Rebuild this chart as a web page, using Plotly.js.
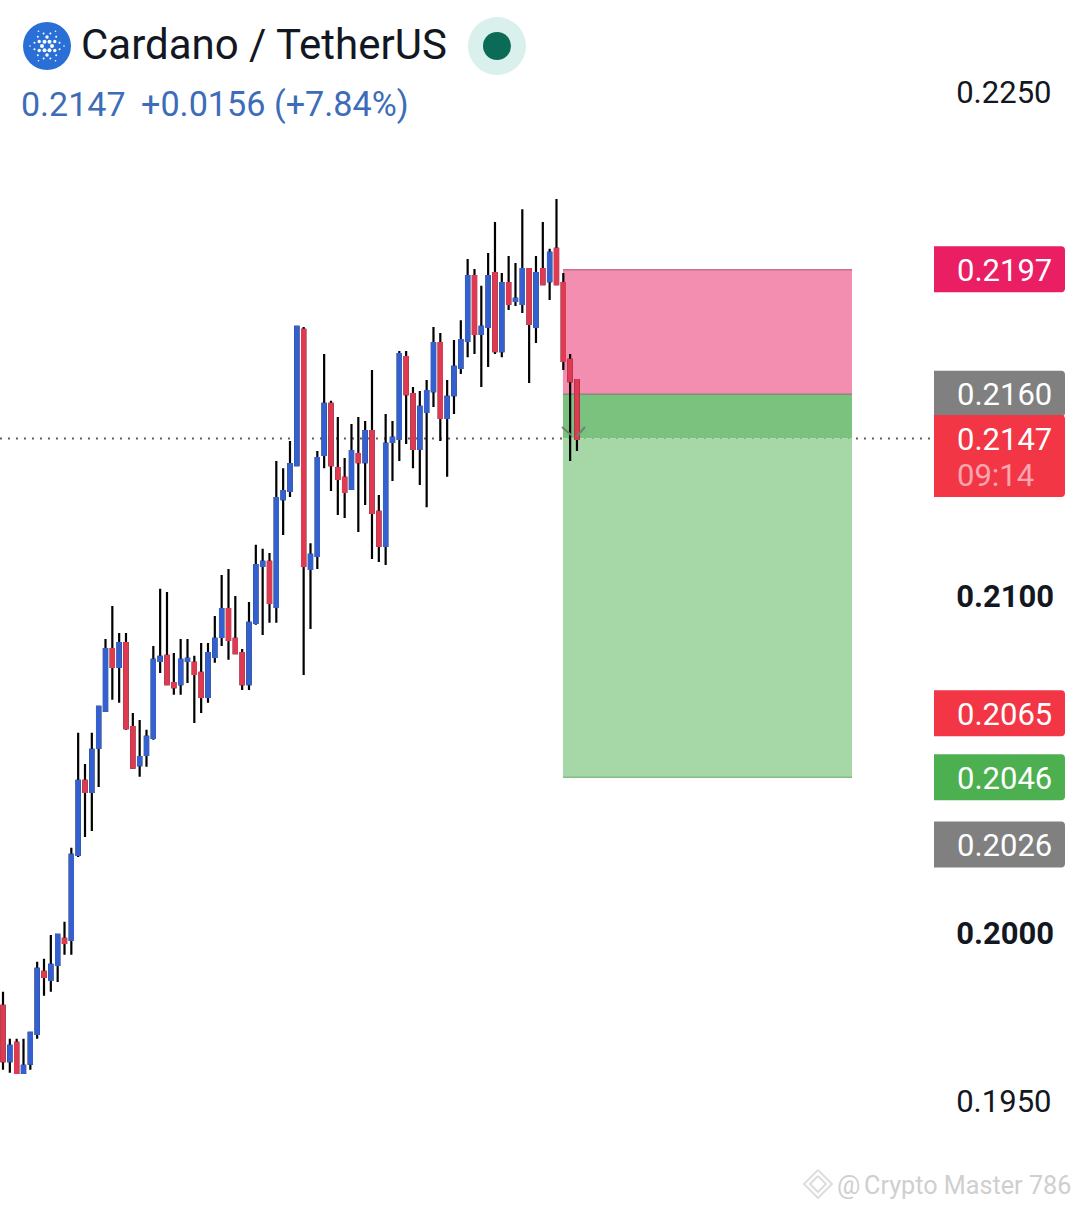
<!DOCTYPE html>
<html>
<head>
<meta charset="utf-8">
<script src="https://cdn.plot.ly/plotly-3.0.1.min.js"></script>
<style>
html, body { margin: 0; padding: 0; background: #fff; }
#chart { width: 1080px; height: 1209px; }
</style>
</head>
<body>
<div id="chart"></div>
<script>
// candles, left to right
const opens = [0.19783,0.19619,0.19673,0.19584,0.19611,0.19700,0.19884,0.19860,0.19905,0.19982,0.19979,0.20232,0.20452,0.20419,0.20550,0.20660,0.20844,0.20791,0.20862,0.20612,0.20499,0.20529,0.20580,0.20809,0.20824,0.20743,0.20740,0.20809,0.20803,0.20773,0.20702,0.20821,0.20880,0.20963,0.20874,0.20832,0.20740,0.20922,0.21091,0.21103,0.20969,0.21290,0.21314,0.21391,0.21793,0.21082,0.21121,0.21421,0.21573,0.21382,0.21353,0.21320,0.21424,0.21400,0.21492,0.21252,0.21151,0.21460,0.21469,0.21712,0.21602,0.21439,0.21549,0.21611,0.21754,0.21531,0.21599,0.21680,0.21760,0.21953,0.21781,0.21802,0.21962,0.21730,0.21932,0.21879,0.21870,0.21974,0.21802,0.21974,0.21938,0.22034,0.21932,0.21704,0.21644];
const highs = [0.19825,0.19685,0.19685,0.19685,0.19703,0.19914,0.19923,0.19994,0.19994,0.20033,0.20253,0.20595,0.20502,0.20595,0.20672,0.20874,0.20972,0.20892,0.20892,0.20654,0.20633,0.20604,0.20853,0.21023,0.21014,0.20832,0.20874,0.20874,0.20824,0.20862,0.20862,0.20942,0.21064,0.21082,0.21002,0.20844,0.20984,0.21154,0.21142,0.21130,0.21403,0.21382,0.21463,0.21802,0.21802,0.21159,0.21433,0.21721,0.21582,0.21534,0.21412,0.21513,0.21534,0.21522,0.21674,0.21302,0.21543,0.21522,0.21730,0.21730,0.21623,0.21611,0.21644,0.21802,0.21784,0.21644,0.21763,0.21822,0.22004,0.21974,0.21924,0.22022,0.22114,0.21962,0.22013,0.21992,0.22152,0.21974,0.22013,0.22114,0.22034,0.22182,0.21962,0.21721,0.21644];
const lows = [0.19593,0.19584,0.19584,0.19584,0.19593,0.19685,0.19813,0.19825,0.19854,0.19935,0.19935,0.20226,0.20285,0.20303,0.20434,0.20660,0.20693,0.20684,0.20604,0.20488,0.20464,0.20494,0.20574,0.20773,0.20737,0.20708,0.20708,0.20743,0.20624,0.20654,0.20684,0.20803,0.20853,0.20812,0.20832,0.20722,0.20722,0.20916,0.20886,0.20922,0.20922,0.21183,0.21296,0.21391,0.20767,0.20904,0.21082,0.21382,0.21314,0.21243,0.21234,0.21320,0.21192,0.21272,0.21112,0.21103,0.21094,0.21344,0.21403,0.21454,0.21382,0.21332,0.21266,0.21564,0.21463,0.21356,0.21543,0.21662,0.21712,0.21721,0.21623,0.21683,0.21721,0.21712,0.21852,0.21864,0.21843,0.21635,0.21754,0.21929,0.21882,0.21929,0.21674,0.21403,0.21433];
const closes = [0.19619,0.19664,0.19584,0.19605,0.19703,0.19893,0.19869,0.19905,0.19994,0.19970,0.20232,0.20452,0.20419,0.20544,0.20672,0.20844,0.20791,0.20862,0.20609,0.20491,0.20523,0.20583,0.20812,0.20821,0.20740,0.20731,0.20812,0.20815,0.20770,0.20702,0.20832,0.20874,0.20963,0.20871,0.20832,0.20740,0.20922,0.21094,0.21103,0.20981,0.21293,0.21314,0.21394,0.21802,0.21091,0.21124,0.21412,0.21573,0.21391,0.21350,0.21311,0.21433,0.21400,0.21492,0.21249,0.21151,0.21454,0.21472,0.21721,0.21602,0.21439,0.21564,0.21611,0.21754,0.21531,0.21594,0.21683,0.21763,0.21953,0.21781,0.21802,0.21953,0.21730,0.21932,0.21870,0.21885,0.21974,0.21811,0.21962,0.21929,0.22022,0.21929,0.21701,0.21641,0.21469];

const priceTicks = [0.2250, 0.2100, 0.2000, 0.1950];
const priceTickText = ['0.2250', '<b>0.2100</b>', '<b>0.2000</b>', '0.1950'];

const stopPrice = 0.21972;
const entryPrice = 0.21602;
const lastPrice = 0.2147;
const targetPrice = 0.20463;
const zoneStart = 81.95;
const zoneEnd = 124.25;

const badgePrices = [0.2197, 0.2160, 0.2065, 0.2046, 0.2026];
const badgeLabels = ['0.2197', '0.2160', '0.2065', '0.2046', '0.2026'];
const badgeColors = ['#E91E63', '#808080', '#F23645', '#4CAF50', '#808080'];

const PLOT_W = 934;
const PLOT_H = 1209;
const FONT = 'Roboto, sans-serif';

function px(x) { return x / PLOT_W; }
function py(y) { return 1 - y / PLOT_H; }
function priceY(p) { return 932 - (p - 0.2) * 33636; }

function circle(cx, cy, r, color) {
    return {
        type: 'circle', xref: 'paper', yref: 'paper', layer: 'above',
        x0: px(cx - r), x1: px(cx + r), y0: py(cy + r), y1: py(cy - r),
        fillcolor: color, line: { width: 0 }
    };
}

function badge(y0, y1, color) {
    const x0 = 934, x1 = 1065, r = 4;
    const P = (x, y) => px(x) + ' ' + py(y);
    const path = 'M' + P(x0, y0) + ' L' + P(x1 - r, y0) + ' Q' + P(x1, y0) + ' ' + P(x1, y0 + r) +
        ' L' + P(x1, y1 - r) + ' Q' + P(x1, y1) + ' ' + P(x1 - r, y1) + ' L' + P(x0, y1) + ' Z';
    return { type: 'path', xref: 'paper', yref: 'paper', layer: 'above', path: path, fillcolor: color, line: { width: 0 } };
}

function polyline(points, color, width) {
    const path = points.map((p, i) => (i ? 'L' : 'M') + px(p[0]) + ' ' + py(p[1])).join(' ');
    return { type: 'path', xref: 'paper', yref: 'paper', layer: 'above', path: path, line: { color: color, width: width } };
}

function label(text, x, y, size, color, extra) {
    return Object.assign({
        text: text, xref: 'paper', yref: 'paper', x: px(x), y: py(y),
        xanchor: 'left', yanchor: 'middle', showarrow: false, borderpad: 0,
        font: { family: FONT, size: size, color: color }
    }, extra || {});
}

const xs = opens.map((_, i) => i);
const bodyHigh = opens.map((o, i) => Math.max(o, closes[i]));
const bodyLow = opens.map((o, i) => Math.min(o, closes[i]));

const wickStyle = { line: { color: '#000000', width: 2.2 }, fillcolor: '#000000' };
const traces = [
    {
        type: 'candlestick', x: xs, open: opens, high: highs, low: lows, close: closes,
        increasing: wickStyle, decreasing: wickStyle, hoverinfo: 'skip', showlegend: false
    },
    {
        type: 'candlestick', x: xs, open: opens, high: bodyHigh, low: bodyLow, close: closes,
        increasing: { line: { color: '#3461CF', width: 2.2 }, fillcolor: '#3461CF' },
        decreasing: { line: { color: '#E03A52', width: 2.2 }, fillcolor: '#E03A52' },
        hoverinfo: 'skip', showlegend: false
    }
];

const shapes = [
    // position tool
    { type: 'rect', xref: 'x', yref: 'y', layer: 'below', x0: zoneStart, x1: zoneEnd, y0: entryPrice, y1: stopPrice, fillcolor: '#F48EB1', line: { width: 0 } },
    { type: 'rect', xref: 'x', yref: 'y', layer: 'below', x0: zoneStart, x1: zoneEnd, y0: lastPrice, y1: entryPrice, fillcolor: '#7CC27F', line: { width: 0 } },
    { type: 'rect', xref: 'x', yref: 'y', layer: 'below', x0: zoneStart, x1: zoneEnd, y0: targetPrice, y1: lastPrice, fillcolor: '#A5D7A7', line: { width: 0 } },
    { type: 'line', xref: 'x', yref: 'y', layer: 'below', x0: zoneStart, x1: zoneEnd, y0: stopPrice, y1: stopPrice, line: { color: '#C9708F', width: 1.5 } },
    { type: 'line', xref: 'x', yref: 'y', layer: 'below', x0: zoneStart, x1: zoneEnd, y0: entryPrice, y1: entryPrice, line: { color: '#8A8A7C', width: 1.5 } },
    { type: 'line', xref: 'x', yref: 'y', layer: 'below', x0: zoneStart, x1: zoneEnd, y0: targetPrice, y1: targetPrice, line: { color: '#86BE88', width: 1.5 } },
    // last price line
    { type: 'line', xref: 'paper', yref: 'y', layer: 'below', x0: 0, x1: 1, y0: lastPrice, y1: lastPrice, line: { color: '#6E5A5A', width: 2, dash: '2px 6px' } },
    // chevron on the last bar
    polyline([[562, 427], [571, 435]], '#728272', 2),
    polyline([[585, 427], [577, 436]], '#728272', 2),
    // header icons
    circle(47, 46, 24, '#2A6FD6'),
    circle(497, 46, 29, '#D9F0EC'),
    circle(497, 46, 14, '#0B6B57')
];

// cardano logo dots
[[5, 6, 2.0, 0], [9, 6, 1.7, 30], [13, 12, 1.0, 15], [17, 6, 0.8, 0]].forEach(ring => {
    for (let k = 0; k < ring[1]; k++) {
        const a = (ring[3] + k * 360 / ring[1]) * Math.PI / 180;
        shapes.push(circle(47 + ring[0] * Math.cos(a), 46 + ring[0] * Math.sin(a), ring[2], '#FFFFFF'));
    }
});

const annotations = [
    label('Cardano / TetherUS', 80, 44, 42, '#131722'),
    label('0.2147', 20, 104, 34, '#3D6DB8'),
    label('+0.0156 (+7.84%)', 140, 104, 34.2, '#3D6DB8')
];

badgePrices.forEach((p, i) => {
    const c = priceY(p);
    shapes.push(badge(c - 23, c + 23, badgeColors[i]));
});
badgePrices.forEach((p, i) => {
    annotations.push(label(badgeLabels[i], 956, priceY(p) + 1, 31, '#FFFFFF'));
});

// countdown badge sits over the entry one
shapes.push(badge(415, 497, '#F23645'));
annotations.push(label('0.2147', 956, 439, 31, '#FFFFFF'));
annotations.push(label('09:14', 956, 476, 31, '#F9A6AE'));

// watermark
[[818, 1184, 14], [818, 1184, 8]].forEach(d => {
    shapes.push(polyline([[d[0], d[1] - d[2]], [d[0] + d[2], d[1]], [d[0], d[1] + d[2]], [d[0] - d[2], d[1]], [d[0], d[1] - d[2]]], '#DDDDDD', 2));
});
annotations.push(label('@', 836, 1185, 26, '#CFCFCF'));
annotations.push(label('Crypto Master 786', 863, 1185, 25.2, '#CFCFCF'));

const layout = {
    width: 1080,
    height: 1209,
    margin: { l: 0, r: 146, t: 0, b: 0, pad: 0 },
    plot_bgcolor: '#FFFFFF',
    paper_bgcolor: '#FFFFFF',
    showlegend: false,
    boxgap: 0.34,
    dragmode: false,
    xaxis: {
        type: 'linear',
        range: [-0.439, 136.25],
        visible: false,
        rangeslider: { visible: false },
        fixedrange: true
    },
    yaxis: {
        side: 'right',
        range: [0.19179, 0.22774],
        tickvals: priceTicks,
        ticktext: priceTickText,
        ticks: 'outside',
        ticklen: 15,
        tickcolor: 'rgba(0,0,0,0)',
        tickfont: { family: FONT, size: 31, color: '#131722' },
        showgrid: false,
        zeroline: false,
        showline: false,
        fixedrange: true
    },
    shapes: shapes,
    annotations: annotations
};

Plotly.newPlot('chart', traces, layout, { displayModeBar: false, staticPlot: true });
</script>
</body>
</html>
